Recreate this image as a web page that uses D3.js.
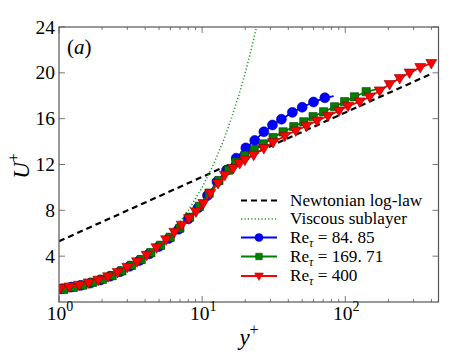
<!DOCTYPE html>
<html><head><meta charset="utf-8">
<script src="https://cdn.jsdelivr.net/npm/d3@7"></script>
<style>body{margin:0;background:#fff}svg{display:block}</style>
</head><body><svg id="c" width="474" height="355"></svg>
<script>
// ---- data ----
const xTicks = [1, 10, 100];
const xTickExp = ["0", "1", "2"];
const yTicks = [4, 8, 12, 16, 20, 24];

const logLawY = [1, 400];
const logLawU = [5.3, 19.92];

const viscY = [1, 1.5, 2, 3, 4, 5, 6, 7, 8, 10, 12, 14, 16, 18, 20, 22, 24];
const viscU = [1, 1.5, 2, 3, 4, 5, 6, 7, 8, 10, 12, 14, 16, 18, 20, 22, 24];

const blueY = [1.05, 1.22, 1.42, 1.66, 1.95, 2.28, 2.67, 3.12, 3.65, 4.27, 5.0, 5.85, 6.85, 8.0, 9.35, 10.9, 12.7, 14.8, 17.3, 20.2, 23.3, 27, 31, 35.8, 42.7, 50, 60, 72, 83];
const blueU = [1.15, 1.3, 1.45, 1.65, 1.92, 2.25, 2.65, 3.12, 3.62, 4.2, 4.85, 5.55, 6.35, 7.25, 8.2, 9.3, 10.5, 11.5, 12.55, 13.45, 14.1, 14.85, 15.45, 15.95, 16.55, 17.0, 17.45, 17.82, 17.97];

const greenY = [1.08, 1.26, 1.47, 1.72, 2.01, 2.35, 2.75, 3.21, 3.75, 4.38, 5.12, 5.98, 6.99, 8.17, 9.55, 11.2, 13.1, 15.3, 17.2, 19.9, 23.1, 26.7, 31.3, 36.8, 43.7, 51.3, 59.6, 70.6, 84.3, 99, 116, 140, 170];
const greenU = [1.1, 1.28, 1.48, 1.72, 1.98, 2.3, 2.72, 3.2, 3.7, 4.3, 4.95, 5.65, 6.45, 7.4, 8.35, 9.5, 10.6, 11.5, 12.2, 12.8, 13.3, 13.8, 14.35, 14.85, 15.3, 15.73, 16.17, 16.6, 17.04, 17.48, 17.91, 18.35, 18.6];

const redY = [1.02, 1.18, 1.38, 1.61, 1.88, 2.2, 2.57, 3.0, 3.51, 4.1, 4.8, 5.6, 6.4, 7.2, 8.1, 9.05, 10.2, 11.4, 12.9, 14.4, 16.5, 18.3, 19.9, 22.9, 27, 31.3, 37.8, 45.1, 53.5, 63.5, 75.7, 90.4, 104.5, 126, 148, 174, 204, 240, 281, 334, 399];
const redU = [1.2, 1.33, 1.48, 1.68, 1.92, 2.22, 2.6, 3.05, 3.52, 4.1, 4.75, 5.45, 6.1, 6.72, 7.3, 7.88, 8.61, 9.49, 10.36, 11.08, 11.67, 12.1, 12.39, 12.83, 13.41, 13.93, 14.49, 14.95, 15.36, 15.82, 16.23, 16.69, 17.1, 17.48, 17.91, 18.44, 19.0, 19.52, 20.0, 20.48, 20.83];

const seriesNames = ["84. 85", "169. 71", "400"];
const legendNames = ["Newtonian log-law", "Viscous sublayer"];

// ---- layout ----
const FONT = "'Liberation Serif'";
const L = 59, R = 438.5, T = 27, B = 302;
const svg = d3.select("#c");
const x = d3.scaleLog().domain([1, 448]).range([L, R]);
const y = d3.scaleLinear().domain([0, 24]).range([B, T]);

svg.append("defs").append("clipPath").attr("id", "clip")
  .append("rect").attr("x", L).attr("y", T).attr("width", R - L).attr("height", B - T);

const zip = (a, b) => a.map((v, i) => [v, b[i]]);
const line = d3.line().x(d => x(d[0])).y(d => y(d[1]));
const g = svg.append("g").attr("clip-path", "url(#clip)");

g.append("path").attr("d", line(zip(logLawY, logLawU))).attr("fill", "none")
  .attr("stroke", "#000").attr("stroke-width", 2.2).attr("stroke-dasharray", "6,4");
g.append("path").attr("d", line(zip(viscY, viscU))).attr("fill", "none")
  .attr("stroke", "#1a9a1a").attr("stroke-width", 1.5).attr("stroke-dasharray", "1.2,2.2");

const series = [
  {ys: blueY, us: blueU, color: "#0000ff", edge: "#00008a", shape: "circle", markAll: false},
  {ys: greenY, us: greenU, color: "#007f00", edge: "#004000", shape: "square", markAll: false},
  {ys: redY, us: redU, color: "#ff0000", edge: "#8a0000", shape: "tri", markAll: true}
];
const symPath = {
  circle: d3.symbol().type(d3.symbolCircle).size(78)(),
  square: d3.symbol().type(d3.symbolSquare).size(68)(),
  tri: "M-5.5,-3.8L5.5,-3.8L0,5.7Z"
};
series.forEach(s => {
  const pts = zip(s.ys, s.us);
  g.append("path").attr("d", line(pts)).attr("fill", "none").attr("stroke", s.color).attr("stroke-width", 1.8);
  const mk = s.markAll ? pts : pts.slice(0, pts.length - 1);
  g.selectAll(null).data(mk).enter().append("path")
    .attr("d", symPath[s.shape])
    .attr("transform", d => `translate(${x(d[0])},${y(d[1])})`)
    .attr("fill", s.color).attr("stroke", s.edge).attr("stroke-width", 0.6);
});

// ---- axes frame and ticks ----
const axisColor = "#555";
svg.append("rect").attr("x", L).attr("y", T).attr("width", R - L).attr("height", B - T)
  .attr("fill", "none").attr("stroke", axisColor).attr("stroke-width", 1.2);

const minor = [];
for (let d = 1; d <= 100; d *= 10) for (let k = 2; k <= 9; k++) if (d * k <= 448) minor.push(d * k);
const tk = svg.append("g").attr("stroke", axisColor).attr("stroke-width", 0.8);
xTicks.forEach(v => {
  tk.append("line").attr("x1", x(v)).attr("x2", x(v)).attr("y1", B).attr("y2", B - 6);
  tk.append("line").attr("x1", x(v)).attr("x2", x(v)).attr("y1", T).attr("y2", T + 6);
});
minor.forEach(v => {
  tk.append("line").attr("x1", x(v)).attr("x2", x(v)).attr("y1", B).attr("y2", B - 3);
  tk.append("line").attr("x1", x(v)).attr("x2", x(v)).attr("y1", T).attr("y2", T + 3);
});
yTicks.forEach(v => {
  tk.append("line").attr("x1", L).attr("x2", L + 6).attr("y1", y(v)).attr("y2", y(v));
  tk.append("line").attr("x1", R).attr("x2", R - 6).attr("y1", y(v)).attr("y2", y(v));
});

const txt = (sel) => sel.append("text").style("font-family", FONT).attr("fill", "#000");

// tick labels
yTicks.forEach(v => {
  txt(svg).attr("x", L - 4).attr("y", y(v) + 6.5).attr("text-anchor", "end")
    .attr("font-size", 19.5).text(v);
});
xTicks.forEach((v, i) => {
  const t = txt(svg).attr("x", x(v) + 1).attr("y", 320).attr("text-anchor", "middle").attr("font-size", 19.5);
  t.append("tspan").text("10");
  t.append("tspan").attr("font-size", 14).attr("dy", -9).text(xTickExp[i]);
});

// axis labels
const yl = txt(svg).attr("transform", "translate(29,166) rotate(-90)").attr("text-anchor", "middle").attr("font-size", 23);
yl.append("tspan").attr("font-style", "italic").text("U");
yl.append("tspan").attr("font-size", 16).attr("dy", -10).text("+");
const xl = txt(svg).attr("x", 249).attr("y", 345).attr("text-anchor", "middle").attr("font-size", 23);
xl.append("tspan").attr("font-style", "italic").text("y");
xl.append("tspan").attr("font-size", 16).attr("dy", -10).text("+");

// panel label
const pl = txt(svg).attr("x", 67).attr("y", 54).attr("font-size", 21);
pl.append("tspan").text("(");
pl.append("tspan").attr("font-style", "italic").text("a");
pl.append("tspan").text(")");

// ---- legend ----
const lg = svg.append("g");
const rowY = [200.5, 219, 237.5, 256.5, 276];
const lx1 = 241, lx2 = 277, tx = 290, fs = 17.2;
lg.append("line").attr("x1", lx1).attr("x2", lx2).attr("y1", rowY[0]).attr("y2", rowY[0])
  .attr("stroke", "#000").attr("stroke-width", 2.2).attr("stroke-dasharray", "6,4");
lg.append("line").attr("x1", lx1).attr("x2", lx2).attr("y1", rowY[1]).attr("y2", rowY[1])
  .attr("stroke", "#1a9a1a").attr("stroke-width", 1.5).attr("stroke-dasharray", "1.2,2.2");
legendNames.forEach((n, i) => {
  txt(lg).attr("x", tx).attr("y", rowY[i] + 5).attr("font-size", fs).text(n);
});
series.forEach((s, i) => {
  const ry = rowY[i + 2];
  lg.append("line").attr("x1", lx1).attr("x2", lx2).attr("y1", ry).attr("y2", ry)
    .attr("stroke", s.color).attr("stroke-width", 1.8);
  lg.append("path").attr("d", symPath[s.shape]).attr("transform", `translate(${(lx1 + lx2) / 2},${ry}) scale(0.8)`)
    .attr("fill", s.color).attr("stroke", s.edge).attr("stroke-width", 0.6);
  const t = txt(lg).attr("x", tx).attr("y", ry + 5).attr("font-size", fs);
  t.append("tspan").text("Re");
  t.append("tspan").attr("font-style", "italic").attr("font-size", 12).attr("dy", 4).text("τ");
  t.append("tspan").attr("dy", -4).text(" = " + seriesNames[i]);
});
</script></body></html>
